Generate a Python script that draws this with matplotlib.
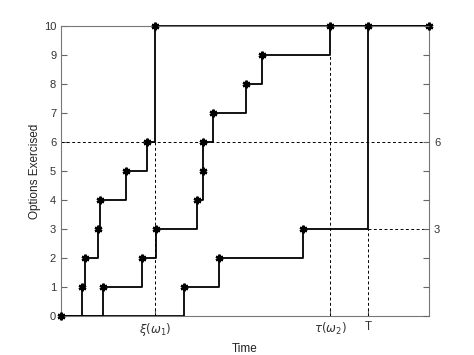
import numpy as np
import matplotlib
matplotlib.use("Agg")
import matplotlib.pyplot as plt

plt.rcParams['font.family'] = ['Liberation Sans', 'DejaVu Sans']
plt.rcParams['mathtext.fontset'] = 'dejavusans'

# jump times and the level reached at each jump, per sample path
path1_t = [0.56, 0.65, 1.01, 1.06, 1.77, 2.33, 2.55]
path1_n = [1, 2, 3, 4, 5, 6, 10]
path2_t = [1.15, 2.19, 2.58, 3.69, 3.85, 3.87, 4.12, 5.02, 5.46, 7.32]
path2_n = [1, 2, 3, 4, 5, 6, 7, 8, 9, 10]
path3_t = [3.34, 4.30, 6.58, 8.33]
path3_n = [1, 2, 3, 10]

t_end = 10.0
xi_w1 = 2.55
tau_w2 = 7.32
T = 8.34
xtick_pos = [xi_w1, tau_w2, T]
xtick_labels = [r'$\xi(\omega_1)$', r'$\tau(\omega_2)$', 'T']
right_labels = {3: '3', 6: '6'}

fig = plt.figure(figsize=(4.74, 3.55), dpi=100)
ax = fig.add_axes([0.1287, 0.1099, 0.7764, 0.8169])

dash = dict(color='black', lw=0.7, ls=(0, (3, 2.5)))
ax.plot([0, t_end], [6, 6], **dash)
ax.plot([T, t_end], [3, 3], **dash)
ax.plot([xi_w1, xi_w1], [0, 6], **dash)
ax.plot([tau_w2, tau_w2], [0, 9], **dash)
ax.plot([T, T], [0, 3], **dash)

mk = dict(marker=(6, 2, 0), ms=5.5, mew=1.7, color='black', ls='none',
          clip_on=False, zorder=5)
for tt, nn in [(path1_t, path1_n), (path2_t, path2_n), (path3_t, path3_n)]:
    xs = [0] + tt + [t_end]
    ys = [0] + nn + [nn[-1]]
    ax.step(xs, ys, where='post', color='black', lw=1.3, clip_on=False)
    ax.plot(tt, nn, **mk)
ax.plot([0, t_end], [0, 10], **mk)

ax.set_xlim(0, t_end)
ax.set_ylim(0, 10)
ax.set_yticks(range(11))
ax.set_xticks(xtick_pos)
ax.set_xticklabels(xtick_labels)
ax.tick_params(direction='in', length=4, labelsize=8, colors='#333333',
               top=True, color='#666666')
ax.tick_params(axis='x', labelsize=8.5)
for s in ax.spines.values():
    s.set_color('#777777')
    s.set_linewidth(0.8)

ax2 = ax.twinx()
ax2.set_ylim(0, 10)
ax2.set_yticks(range(11))
ax2.set_yticklabels([right_labels.get(i, '') for i in range(11)])
ax2.tick_params(direction='in', length=4, labelsize=8, colors='#333333',
                color='#666666')
for s in ax2.spines.values():
    s.set_visible(False)

ax.set_xlabel('Time', fontsize=8.5, color='#222222', labelpad=4)
ax.set_ylabel('Options Exercised', fontsize=8.5, color='#222222', labelpad=2)

fig.savefig('out.png', dpi=100)
